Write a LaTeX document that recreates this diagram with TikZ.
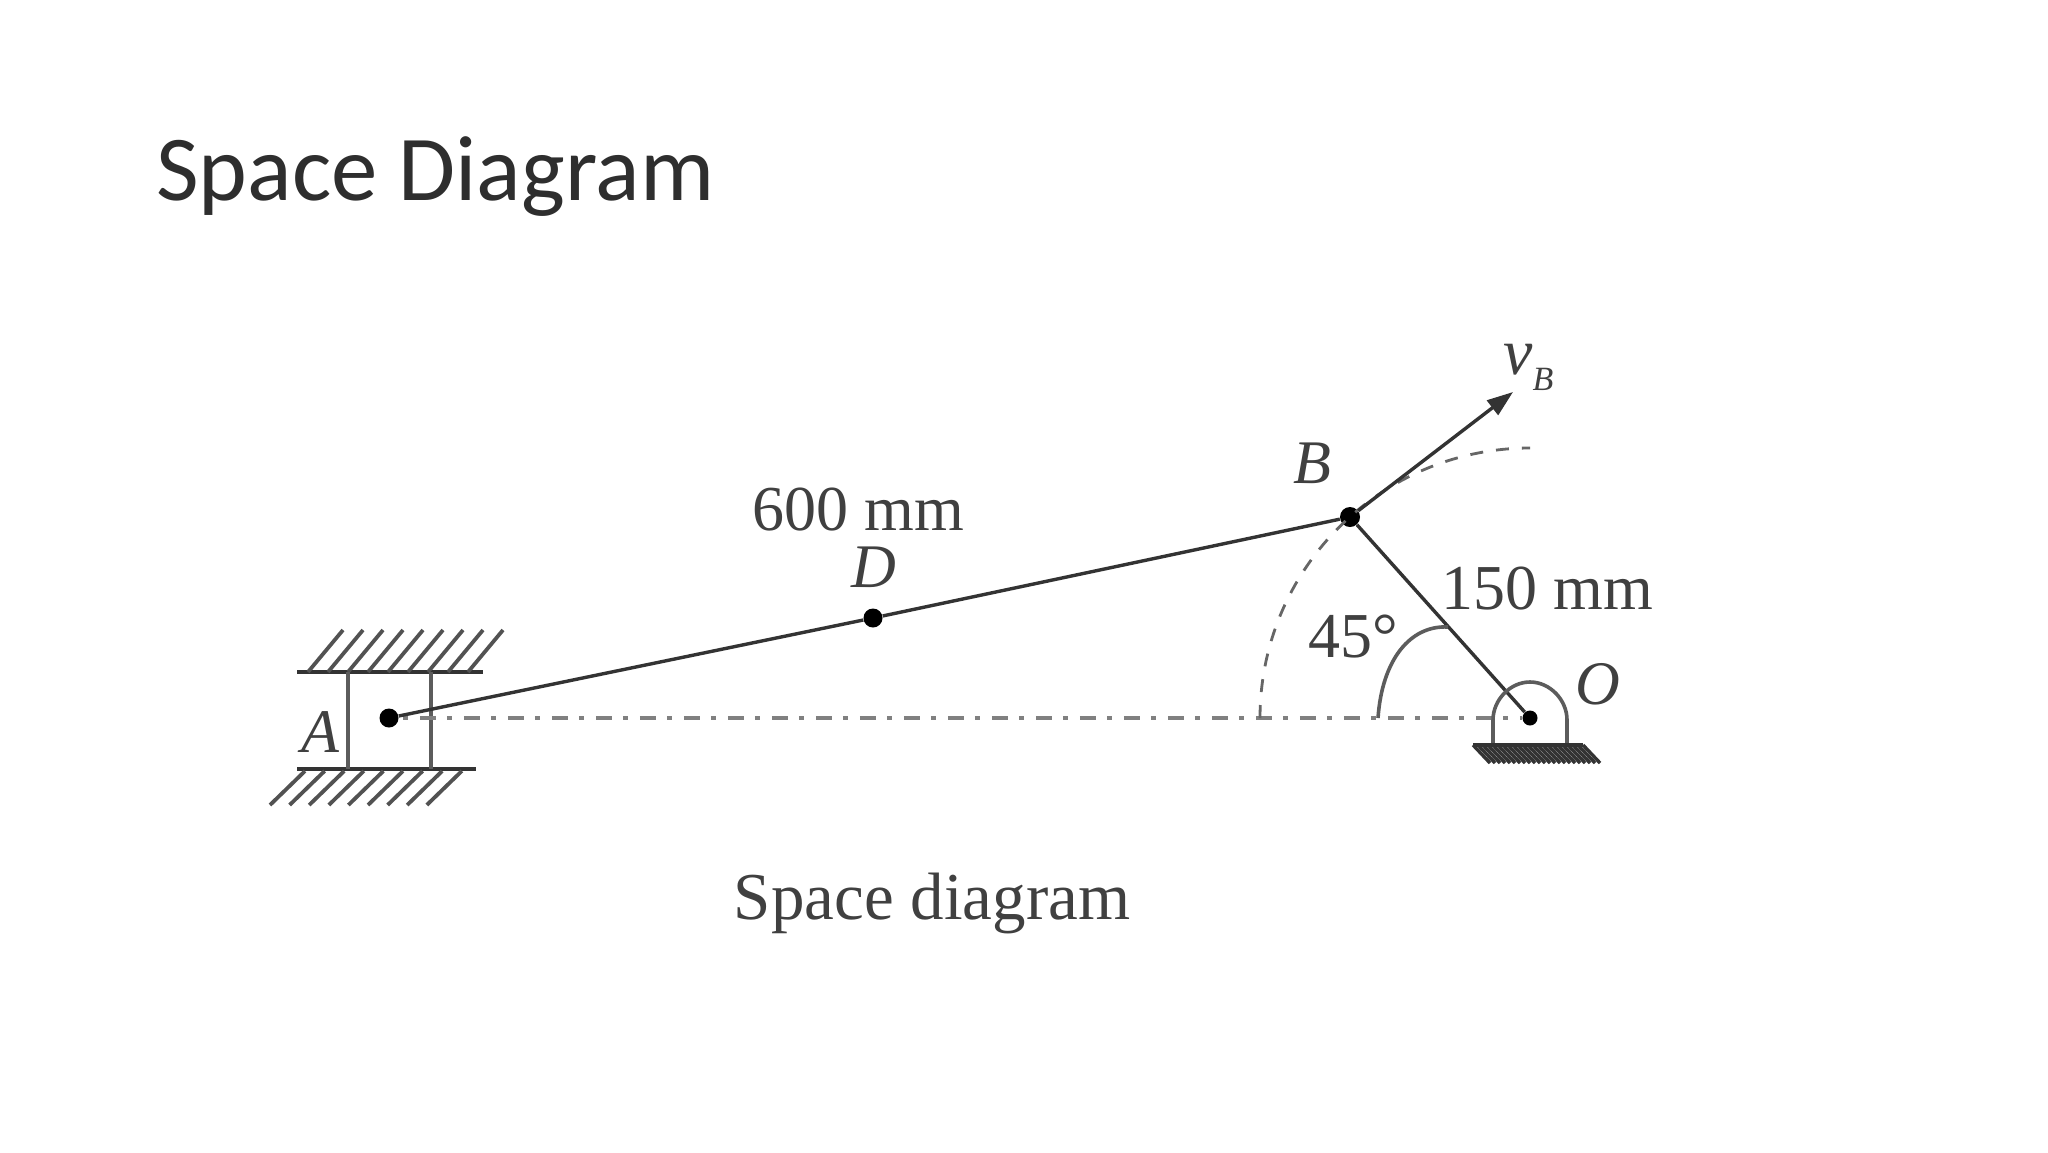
\documentclass[tikz,border=0pt]{standalone}
\usepackage{fontspec}
\setmainfont{Liberation Serif}
\newfontfamily\titlefont{Carlito}
\usetikzlibrary{arrows.meta}
\definecolor{ink}{HTML}{333333}
\definecolor{txt}{HTML}{404040}
\tikzset{
  pin/.style={circle,fill=black,draw=none,inner sep=0pt,minimum size=#1},
  lbl/.style={text=txt,inner sep=0pt,font=\fontsize{32}{32}\selectfont},
  wall/.style={draw=ink,line width=1.9pt},
  hatch/.style={draw=ink!85,line width=1.9pt},
  link/.style={draw=ink,line width=1.7pt},
  centerline/.style={draw=gray,line width=1.6pt,dash pattern=on 8pt off 5.5pt on 2.5pt off 6pt,dash phase=11.5pt},
  swing/.style={draw=gray!80!black,line width=1.4pt,dash pattern=on 6.5pt off 6.5pt},
}
\begin{document}
\begin{tikzpicture}[x=0.5pt,y=-0.5pt]
\useasboundingbox[fill=white] (0,0) rectangle (2048,1152);
% title
\node[anchor=base west,inner sep=0pt,text=black!82,font=\titlefont\fontsize{46.4}{46.4}\selectfont] (title) at (156,200) {Space Diagram};
% slider guides and block
\coordinate (tl) at (297,672); \coordinate (tr) at (483,672);
\coordinate (bl) at (297,769); \coordinate (br) at (476,769);
\draw[wall] (tl) -- (tr);
\draw[wall] (bl) -- (br);
\foreach \i in {0,...,8}{
  \draw[hatch] (308+20*\i,672) -- ++(35,-42);
  \draw[hatch] (305+19.6*\i,771) -- ++(-35,34);
}
\draw[wall,draw=ink!80] (348,672) -- (348,769);
\draw[wall,draw=ink!80] (431,672) -- (431,769);
% points
\node[pin=9.5pt] (A) at (389,718) {};
\node[pin=9.5pt] (D) at (873,618) {};
\node[pin=10pt] (B) at (1350,517) {};
\node[pin=7.5pt] (O) at (1530,718) {};
\coordinate (tip) at (1513,392);
% construction lines
\draw[centerline] (A.east) -- (O.west);
\draw[swing] (1260,718) .. controls (1260,569) and (1381,448) .. (1530,448);
% links
\draw[link] (A) -- (D);
\draw[link] (D) -- (B);
\draw[link] (B) -- (O);
\draw[link,-{Stealth[length=13pt,width=9pt,inset=0pt]}] (B) -- (tip);
% angle arc
\draw[draw=ink!80,line width=1.8pt] (1378,718) .. controls (1382,660) and (1410,625) .. (1448,627);
% pin support
\draw[draw=ink!80,line width=1.8pt] (1493,745) -- (1493,720) .. controls (1493,700) and (1510,682) .. (1530,682) .. controls (1550,682) and (1567,700) .. (1567,720) -- (1567,745);
\draw[wall] (1473,745) -- (1583,745);
\foreach \i in {0,...,22}{
  \draw[draw=ink,line width=1.7pt] (1473+5*\i,745) -- ++(17,18);
}
% labels
\node[lbl,font=\itshape\fontsize{31}{31}\selectfont] (lA) at (320,732) {A};
\node[lbl,font=\itshape\fontsize{31}{31}\selectfont] (lB) at (1312,463) {B};
\node[lbl,font=\itshape\fontsize{31}{31}\selectfont] (lD) at (874,567) {D};
\node[lbl,font=\itshape\fontsize{31}{31}\selectfont] (lO) at (1598,684) {O};
\node[lbl,anchor=base] (len1) at (858,530) {600 mm};
\node[lbl,anchor=base] (len2) at (1547,609) {150 mm};
\node[lbl,anchor=base] (ang) at (1353,657) {45°};
\node[lbl,anchor=base west,font=\itshape\fontsize{33}{33}\selectfont] (vb) at (1503,374) {v\kern 0pt\raisebox{-8pt}{\fontsize{17}{17}\selectfont B}};
\node[lbl,anchor=base,font=\fontsize{33.5}{33.5}\selectfont] (cap) at (932,919) {Space diagram};
\end{tikzpicture}
\end{document}
